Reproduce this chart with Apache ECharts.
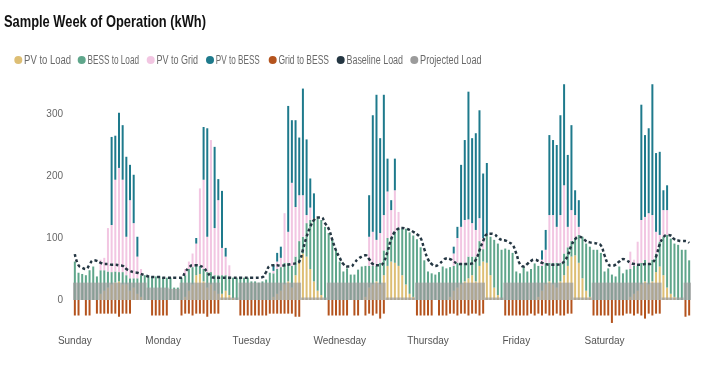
<!DOCTYPE html>
<html>
<head>
<meta charset="utf-8">
<script src="https://cdn.jsdelivr.net/npm/echarts@6/dist/echarts.min.js"></script>
<style>
html,body{margin:0;padding:0;background:#fff;}
#chart{width:706px;height:371px;}
</style>
</head>
<body>
<div id="chart"></div>
<script>
var days = ['Sunday','Monday','Tuesday','Wednesday','Thursday','Friday','Saturday'];
var yTicks = [0, 100, 200, 300];
var seriesNames = ['PV to Load', 'BESS to Load', 'PV to Grid', 'PV to BESS', 'Grid to BESS', 'Baseline Load', 'Projected Load'];
var seriesColors = ['#DDBE74', '#5FA68B', '#F2C6E2', '#1E7A8C', '#B4531D', '#243642', '#9B9B9B'];

var pvToLoad = [
  0,0,0,0,0,0,0,10,15,20,25,28,30,25,25,15,20,10,5,0,0,0,0,0,
  0,0,0,0,0,0,5,15,25,40,42,30,20,25,15,10,10,15,8,3,0,0,0,0,
  0,0,0,0,0,0,5,10,15,25,30,20,40,60,75,70,50,30,15,8,0,0,0,0,
  0,0,0,0,0,0,0,5,20,25,30,25,40,55,62,60,55,40,25,10,5,0,0,0,
  0,0,0,0,0,0,5,15,20,25,30,35,40,30,55,62,60,40,20,8,0,0,0,0,
  0,0,0,0,0,0,5,15,25,30,25,20,30,40,55,70,72,60,35,15,5,0,0,0,
  0,0,0,0,0,0,0,5,10,15,25,30,25,30,45,54,40,20,10,5,0,0,0,0
];
var bessToLoad = [
  62,44,42,40,48,54,38,38,33,26,20,18,15,20,15,20,15,25,35,40,38,38,38,38,
  36,36,36,20,20,36,35,35,28,15,13,20,25,20,25,30,30,25,30,33,36,36,36,36,
  30,30,28,30,33,44,38,40,38,35,30,35,30,35,27,54,79,102,117,121,118,108,97,81,
  62,46,51,41,41,49,54,50,35,30,25,35,40,45,40,50,62,75,90,99,99,98,85,64,
  46,43,41,45,54,51,48,40,40,35,30,35,30,40,40,20,45,62,77,83,81,83,81,76,
  46,43,54,46,50,59,50,40,35,30,35,40,30,35,30,25,28,45,67,76,81,81,81,76,
  46,51,41,38,54,43,49,45,45,40,35,35,35,35,30,40,62,85,89,86,89,81,81,64
];
var pvToGrid = [
  0,0,0,0,0,0,0,17,20,70,76,148,168,149,62,126,89,35,10,0,0,0,0,0,
  0,0,0,0,0,0,10,12,22,36,125,144,57,213,76,121,44,30,18,0,0,0,0,0,
  0,0,0,0,0,0,4,12,15,80,50,134,80,74,67,13,20,0,0,0,0,0,0,0,
  0,0,0,0,0,0,0,0,47,55,42,48,57,75,43,67,25,0,0,0,0,0,0,0,
  0,0,0,0,0,0,0,20,40,58,69,60,54,43,37,18,0,0,0,0,0,0,0,0,
  0,0,0,0,0,0,0,10,21,77,77,58,77,110,33,50,37,13,0,0,0,0,0,0,
  0,0,0,0,0,0,0,28,10,39,69,69,80,72,35,11,43,40,0,0,0,0,0,0
];
var pvToBess = [
  0,0,0,0,0,0,0,0,0,0,142,71,89,88,129,57,78,32,0,0,0,0,0,0,
  0,0,0,0,0,0,0,0,0,9,0,85,175,0,131,34,92,14,0,0,0,0,0,0,
  0,0,0,0,0,0,9,14,18,0,203,101,140,93,172,122,47,40,0,0,0,0,0,0,
  0,0,0,0,0,0,0,0,67,188,234,153,194,53,16,51,0,0,0,0,0,0,0,0,
  0,0,0,0,0,0,0,11,18,100,129,206,137,156,174,104,116,0,0,0,0,0,0,0,
  0,0,0,0,0,0,0,15,32,129,121,132,161,163,116,137,40,43,0,0,0,0,0,0,
  0,0,0,0,0,0,0,0,0,0,186,132,137,211,127,134,32,40,0,0,0,0,0,0
];
var gridToBess = [
  -25,-25,0,-25,-25,0,-22,-22,-22,-22,-22,-22,-27,-22,-22,-22,0,0,0,0,0,-25,-25,-25,
  -25,-25,0,0,0,-25,-22,-22,-25,-22,-22,-22,-27,-22,-22,-22,0,0,0,0,0,-25,-25,-25,
  -25,-25,-25,-25,-25,-22,-22,-22,-22,-22,-22,-22,-27,-27,0,0,0,0,0,0,0,-25,-25,-25,
  -25,-25,-25,0,-25,-25,0,-25,-22,-25,-22,-30,-22,0,0,0,0,0,0,0,0,-25,-25,-25,
  -25,-25,0,-25,-25,-25,-22,-22,-25,-22,-22,-25,-22,-22,-25,-22,0,0,0,0,0,-25,-25,-25,
  -25,-25,-25,-25,-22,-25,-22,-25,-22,-25,-25,-22,-25,-25,-22,-22,0,0,0,0,0,-25,-25,-25,
  -25,-25,-37,-25,-25,-25,-22,-22,-25,-22,-25,-30,-22,-25,-22,-22,0,0,0,0,0,0,-27,-25
];
var baselineLoad = [
  74,56,52,50,57,64,63,60,58,58,57,57,56,55,50,47,45,44,42,40,38,37,37,37,
  36,36,36,36,36,36,45,52,56,56,55,52,45,38,36,36,36,36,36,36,36,36,36,36,
  36,36,36,37,45,55,56,56,55,56,57,58,59,62,81,102,118,129,133,133,124,115,97,80,
  68,58,54,54,60,66,70,72,66,58,56,56,62,78,98,110,115,116,115,113,110,106,100,82,
  66,58,55,58,63,67,66,62,59,58,58,58,59,65,80,95,106,107,106,101,97,96,93,89,
  75,58,54,58,63,65,63,60,58,57,57,57,58,62,72,88,98,102,100,95,93,92,91,88,
  72,58,55,57,62,66,64,60,58,57,57,58,58,60,70,90,101,105,104,98,96,95,95,92
];
var projectedLoad = [
  28,28,28,28,28,28,28,28,28,28,28,28,28,28,28,28,28,28,28,28,20,20,20,20,
  20,20,18,18,18,28,28,28,28,28,28,28,28,28,28,28,4,4,4,4,4,28,28,28,
  28,28,28,28,28,28,28,28,28,28,28,28,28,28,4,4,4,4,4,4,4,28,28,28,
  28,28,28,28,28,28,28,28,28,28,28,28,28,4,4,4,4,4,4,4,4,28,28,28,
  28,28,28,28,28,28,28,28,28,28,28,28,28,28,28,28,4,4,4,4,4,28,28,28,
  28,28,28,28,28,28,28,28,28,28,28,28,28,28,28,28,4,4,4,4,4,28,28,28,
  28,28,28,28,28,28,28,28,28,28,28,28,28,28,28,28,4,4,4,4,4,4,28,28
];

var hours = [];
days.forEach(function (d) { for (var h = 0; h < 24; h++) hours.push(d + ' ' + h + ':00'); });

var FONT = "'Liberation Sans', Arial, sans-serif";
var measureCtx = document.createElement('canvas').getContext('2d');
function textW(t, font) { measureCtx.font = font; return measureCtx.measureText(t).width; }

var chart = echarts.init(document.getElementById('chart'));

function barSeries(k, data) {
  return {
    name: seriesNames[k], type: 'bar', stack: 'flow', data: data, barWidth: 2,
    itemStyle: { color: seriesColors[k] }, clip: false
  };
}

// legend drawn as graphic items with a condensed look
var legendX = [18.3, 81.7, 150.7, 210, 272.7, 340.7, 414.3];
var legendTextW = [47, 51.5, 41.5, 44, 50.5, 56.5, 61.5];
var LEG_FONT = "12px " + FONT;
var legendGraphics = [];
seriesNames.forEach(function (n, k) {
  legendGraphics.push({
    type: 'circle', shape: { cx: legendX[k], cy: 60, r: 4 },
    style: { fill: seriesColors[k] }, silent: true
  });
  legendGraphics.push({
    type: 'text', x: legendX[k] + 5.8, y: 60.5, scaleX: legendTextW[k] / textW(n, LEG_FONT),
    style: { text: n, font: LEG_FONT, fill: '#6a6a6a', verticalAlign: 'middle', textVerticalAlign: 'middle' },
    silent: true
  });
});
var TITLE = 'Sample Week of Operation (kWh)';
var TITLE_FONT = "bold 16px " + FONT;

chart.setOption({
  animation: false,
  textStyle: { fontFamily: FONT },
  graphic: [{
    type: 'text', x: 4, y: 23, scaleX: 202 / textW(TITLE, TITLE_FONT),
    style: { text: TITLE, font: TITLE_FONT, fill: '#111', verticalAlign: 'middle', textVerticalAlign: 'middle' },
    silent: true
  }].concat(legendGraphics),
  legend: { show: false, data: seriesNames },
  grid: { left: 73, right: 15, top: 83, bottom: 40 },
  xAxis: [{
    type: 'category', data: hours, boundaryGap: true,
    axisLine: { show: false, onZero: false }, axisTick: { show: false },
    axisLabel: {
      interval: function (i) { return i % 24 === 0; },
      formatter: function (v, i) { return days[Math.floor(i / 24)]; },
      fontFamily: FONT, fontSize: 10, color: '#555', margin: 5
    },
    splitLine: { show: false }
  }, {
    type: 'category', data: hours, boundaryGap: true, show: false
  }],
  yAxis: {
    type: 'value', min: -50, max: 350, interval: 50,
    axisLine: { show: false }, axisTick: { show: false }, splitLine: { show: false },
    axisLabel: {
      fontFamily: FONT, fontSize: 10, color: '#666', margin: 10,
      formatter: function (v) { return yTicks.indexOf(v) >= 0 ? String(v) : ''; }
    }
  },
  series: [
    barSeries(0, pvToLoad),
    barSeries(1, bessToLoad),
    barSeries(2, pvToGrid),
    barSeries(3, pvToBess),
    barSeries(4, gridToBess),
    {
      name: 'Projected Load', type: 'bar', xAxisIndex: 1, data: projectedLoad,
      barWidth: '100%', itemStyle: { color: seriesColors[6], opacity: 0.7 }
    },
    {
      name: 'Baseline Load', type: 'line', data: baselineLoad, smooth: true,
      symbol: 'none', z: 5, itemStyle: { color: seriesColors[5] },
      lineStyle: { color: seriesColors[5], width: 2.5, type: [3, 2.5] }
    }
  ]
});
</script>
</body>
</html>
